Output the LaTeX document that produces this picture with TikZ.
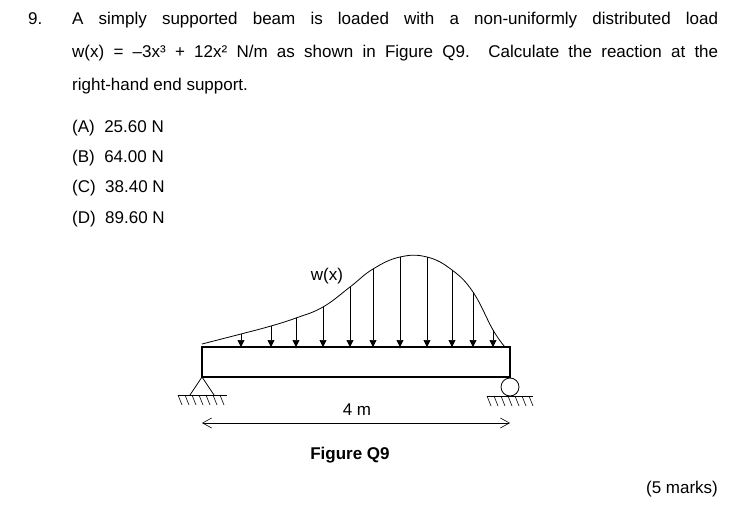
\documentclass[tikz,border=0pt]{standalone}
\usepackage{fontspec}
\setmainfont{Liberation Sans}
\usetikzlibrary{arrows.meta}
\begin{document}
\begin{tikzpicture}[x=1pt,y=-1pt,
  txt/.style={anchor=base west,inner sep=0pt,font=\fontsize{17}{33}\selectfont},
  load/.style={-{Triangle[length=7pt,width=7pt]},line width=0.7pt},
  ln/.style={line width=0.8pt}]
\useasboundingbox (0,0) rectangle (749,505);
\node[txt] (num) at (28,25) {9.};
\node[txt,text width=646,align=justify] (q) at (72,25)
 {A simply supported beam is loaded with a non-uniformly distributed load\linebreak w(x) = –3x³ + 12x² N/m as shown in Figure Q9.\ \ Calculate the reaction at the\linebreak right-hand end support.};
\node[txt] (a) at (72,133) {(A)\ \ 25.60 N};
\node[txt] (b) at (72,163) {(B)\ \ 64.00 N};
\node[txt] (c) at (72,193) {(C)\ \ 38.40 N};
\node[txt] (d) at (72,223) {(D)\ \ 89.60 N};
% beam
\draw[line width=1.5pt] (202,347) rectangle (510,377);
% load curve
\draw[ln] plot[smooth,tension=0.7] coordinates {(202,344)(241,334)(271,326)(296,318)(323,307)(350,287)(373,269)(400,257)(427,257)(452,270)(473,292)(493,330)(505,347)};
\foreach \x/\y in {241/334,271/326,296/318,323/307,350/287,373/269,400/257,427/257,452/270,473/292,493/330}
  \draw[load] (\x,\y) -- (\x,347);
\node[txt,anchor=center] (w) at (327,276) {w(x)};
% left pin
\draw[ln] (190,395) -- (202,377) -- (214,395);
\draw[ln] (178,395) -- (227,395);
\foreach \i in {0,...,6} \draw[line width=0.6pt] ({178+7*\i},395) -- ({182+7*\i},405);
% right roller
\draw[ln] (510,387) circle (9);
\draw[ln] (487,396) -- (533,396);
\foreach \i in {0,...,6} \draw[line width=0.6pt] ({487+7*\i},396) -- ({491+7*\i},406);
% dimension
\coordinate (L) at (202,423); \coordinate (R) at (510,423);
\draw[{Straight Barb[length=9pt,width=10pt]}-{Straight Barb[length=9pt,width=10pt]},line width=0.6pt] (L) -- (R);
\node[txt,anchor=center] (dim) at (357,410) {4 m};
\node[txt,anchor=center,font=\fontsize{17}{18}\bfseries] (fig) at (350,455) {Figure Q9};
\node[txt,anchor=center] (marks) at (682,489) {(5 marks)};
\end{tikzpicture}
\end{document}
